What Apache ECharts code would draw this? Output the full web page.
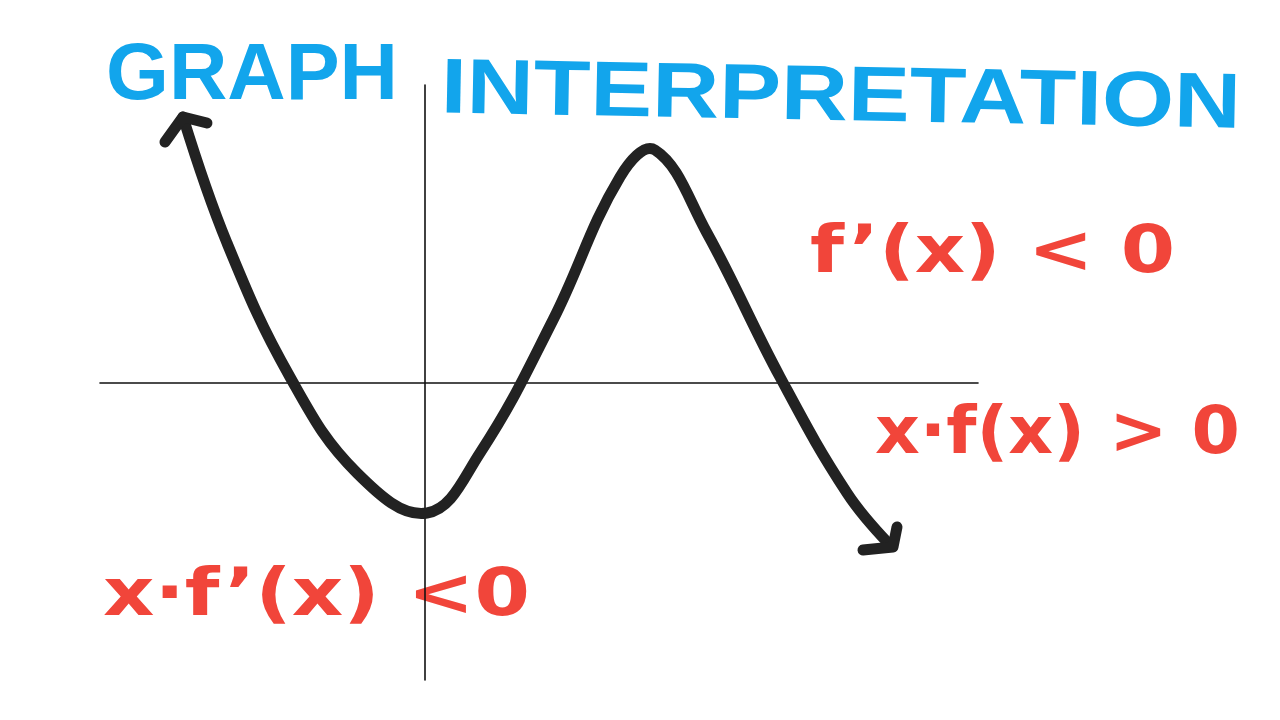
<!DOCTYPE html>
<html>
<head>
<meta charset="utf-8">
<script src="https://cdn.jsdelivr.net/npm/echarts@6/dist/echarts.min.js"></script>
<style>html,body{margin:0;padding:0;background:#fff}#c{width:1280px;height:720px}</style>
</head>
<body>
<div id="c"></div>
<script>
// Curve f(x)
const curveX = [-2.42, -1.98, -1.35, -0.68, 0.02, 0.55, 1.28, 1.95, 2.30, 2.82, 3.55, 4.22, 4.65];
const curveY = [2.66, 1.40, 0.06, -0.90, -1.30, -0.70, 0.63, 2.06, 2.33, 1.50, 0.06, -1.10, -1.62];
// Arrow heads (arm - tip - arm)
const arrowTopX = [-2.60, -2.42, -2.18];
const arrowTopY = [2.41, 2.66, 2.60];
const arrowEndX = [4.38, 4.68, 4.72];
const arrowEndY = [-1.67, -1.64, -1.44];
// Labels
const titleWords = ['GRAPH', 'INTERPRETATION'];
const notes = ['f\u2019(x) < 0', 'x\u00b7f(x) > 0', 'x\u00b7f\u2019(x) <0'];

const zip = (xs, ys) => xs.map((x, i) => [x, ys[i]]);
const ctx = document.createElement('canvas').getContext('2d');
function fit(text, font, target) { ctx.font = font; return target / ctx.measureText(text).width; }

const chart = echarts.init(document.getElementById('c'));
const blue = '#12a5ec', red = '#f1453a', ink = '#222';
const titleFont1 = 'bold 80px "Liberation Sans"';
const titleFont2 = 'bold 78px "Liberation Sans"';
const noteFont = 'bold 66px "DejaVu Sans"';
function txt(text, font, color, x, y, width, rot) {
  return {type: 'text', x: x, y: y, rotation: rot || 0, scaleX: fit(text, font, width), scaleY: 1,
    style: {text: text, fill: color, font: font, textAlign: 'left', textVerticalAlign: 'middle', verticalAlign: 'middle'}};
}
function strokeSeries(xs, ys, smooth) {
  const pts = zip(xs, ys);
  return {
    type: 'custom', clip: false, data: [0], silent: true,
    renderItem: function (params, api) {
      return {type: 'polyline',
        shape: {points: pts.map(p => api.coord(p)), smooth: smooth},
        style: {stroke: ink, lineWidth: 11, lineCap: 'round', lineJoin: 'round', fill: null}};
    }
  };
}
chart.setOption({
  animation: false,
  grid: {left: 100, right: 302, top: 85, bottom: 40},
  xAxis: {type: 'value', min: -3.25, max: 5.53,
    axisLine: {onZero: true, lineStyle: {color: '#111', width: 1.6}},
    axisTick: {show: false}, axisLabel: {show: false}, splitLine: {show: false}},
  yAxis: {type: 'value', min: -2.97, max: 2.98,
    axisLine: {onZero: true, lineStyle: {color: '#111', width: 1.6}},
    axisTick: {show: false}, axisLabel: {show: false}, splitLine: {show: false}},
  series: [
    strokeSeries(curveX, curveY, 0.4),
    strokeSeries(arrowTopX, arrowTopY, 0),
    strokeSeries(arrowEndX, arrowEndY, 0)
  ],
  graphic: [
    txt(titleWords[0], titleFont1, blue, 106, 77, 292, 0),
    txt(titleWords[1], titleFont2, blue, 441, 91, 800, -0.019),
    txt(notes[0], noteFont, red, 810, 255, 365, 0),
    txt(notes[1], noteFont, red, 875, 436, 365, 0),
    txt(notes[2], noteFont, red, 103, 598, 427, 0)
  ]
});
</script>
</body>
</html>
